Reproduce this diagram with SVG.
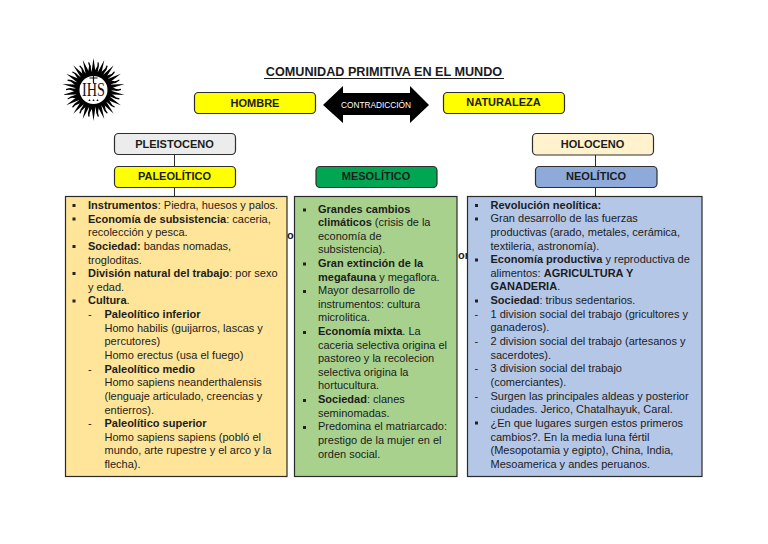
<svg xmlns="http://www.w3.org/2000/svg" width="768" height="544" viewBox="0 0 768 544">
<style>
text{font-family:"Liberation Sans",Arial,sans-serif;fill:#1c1c1c}
.t{font-size:11px}
.b{font-weight:bold}
.h{font-size:11px;font-weight:bold;text-anchor:middle}
.box{stroke:#2e2e2e;stroke-width:1.2}
.panel{stroke:#2a2a2a;stroke-width:1.2}
.c{stroke:#2a2a2a;stroke-width:1;fill:none}
.dot{fill:#222}
</style>
<defs>
<rect id="bu" x="-1.5" y="-1.5" width="3" height="3" class="dot"/>
<polygon id="r1" points="91,76 96,76 93.500,58"/>
<path id="r2" d="M91.300,76 Q90.600,71 92.400,68 Q93.800,65.500 92.800,62 L94,62 Q95.400,66 94.600,69 Q94.200,72 95.700,76Z"/>
</defs>
<g id="logo" fill="#000">
<circle cx="93.500" cy="89.500" r="18"/>
<use href="#r1"/>
<use href="#r2" transform="rotate(10 93.500 89.500)"/>
<use href="#r1" transform="rotate(20 93.500 89.500)"/>
<use href="#r2" transform="rotate(30 93.500 89.500)"/>
<use href="#r1" transform="rotate(40 93.500 89.500)"/>
<use href="#r2" transform="rotate(50 93.500 89.500)"/>
<use href="#r1" transform="rotate(60 93.500 89.500)"/>
<use href="#r2" transform="rotate(70 93.500 89.500)"/>
<use href="#r1" transform="rotate(80 93.500 89.500)"/>
<use href="#r2" transform="rotate(90 93.500 89.500)"/>
<use href="#r1" transform="rotate(100 93.500 89.500)"/>
<use href="#r2" transform="rotate(110 93.500 89.500)"/>
<use href="#r1" transform="rotate(120 93.500 89.500)"/>
<use href="#r2" transform="rotate(130 93.500 89.500)"/>
<use href="#r1" transform="rotate(140 93.500 89.500)"/>
<use href="#r2" transform="rotate(150 93.500 89.500)"/>
<use href="#r1" transform="rotate(160 93.500 89.500)"/>
<use href="#r2" transform="rotate(170 93.500 89.500)"/>
<use href="#r1" transform="rotate(180 93.500 89.500)"/>
<use href="#r2" transform="rotate(190 93.500 89.500)"/>
<use href="#r1" transform="rotate(200 93.500 89.500)"/>
<use href="#r2" transform="rotate(210 93.500 89.500)"/>
<use href="#r1" transform="rotate(220 93.500 89.500)"/>
<use href="#r2" transform="rotate(230 93.500 89.500)"/>
<use href="#r1" transform="rotate(240 93.500 89.500)"/>
<use href="#r2" transform="rotate(250 93.500 89.500)"/>
<use href="#r1" transform="rotate(260 93.500 89.500)"/>
<use href="#r2" transform="rotate(270 93.500 89.500)"/>
<use href="#r1" transform="rotate(280 93.500 89.500)"/>
<use href="#r2" transform="rotate(290 93.500 89.500)"/>
<use href="#r1" transform="rotate(300 93.500 89.500)"/>
<use href="#r2" transform="rotate(310 93.500 89.500)"/>
<use href="#r1" transform="rotate(320 93.500 89.500)"/>
<use href="#r2" transform="rotate(330 93.500 89.500)"/>
<use href="#r1" transform="rotate(340 93.500 89.500)"/>
<use href="#r2" transform="rotate(350 93.500 89.500)"/>
<circle cx="93.500" cy="90" r="14" fill="#fff"/>
<text x="93.500" y="96" text-anchor="middle" textLength="23" lengthAdjust="spacingAndGlyphs" style="font-family:'Liberation Serif',serif;font-size:18px;fill:#111">IHS</text>
<path d="M93.500,75 V83 M89.500,78 H97.500" stroke="#111" stroke-width="1.200" fill="none"/>
<path d="M89.500,99 l1.100,2 h-2.200z M93.500,99 l1.100,2 h-2.200z M97.500,99 l1.100,2 h-2.200z" fill="#111"/>
</g>
<g id="title">
<text x="384" y="76" text-anchor="middle" class="b" style="font-size:12.650px">COMUNIDAD PRIMITIVA EN EL MUNDO</text>
<rect x="264" y="78" width="240" height="1" fill="#1c1c1c"/>
</g>
<g id="connectors">
<path class="c" d="M174.500,154V166M174.500,187V196M595.500,155V166M595.500,187V196"/>
</g>
<g id="hombre"><rect class="box" x="194.500" y="92.500" width="121" height="21" rx="4" fill="#ffff00"/><text class="h" x="255" y="107">HOMBRE</text></g>
<g id="contradiccion"><polygon points="323,105 343,86 343,93 410,93 410,86 429,105 410,123 410,115 343,115 343,123" fill="#000"/><text x="376" y="108" text-anchor="middle" style="font-size:8.300px;fill:#fff">CONTRADICCIÓN</text></g>
<g id="naturaleza"><rect class="box" x="443.500" y="92.500" width="121" height="21" rx="4" fill="#ffff00"/><text class="h" x="503.500" y="106">NATURALEZA</text></g>
<g id="pleistoceno"><rect class="box" x="114.500" y="133.500" width="121" height="21" rx="4" fill="#ececec"/><text class="h" x="174.500" y="147.500">PLEISTOCENO</text></g>
<g id="paleolitico"><rect class="box" x="114.500" y="166.500" width="121" height="21" rx="4" fill="#ffff00"/><text class="h" x="174.500" y="180">PALEOLÍTICO</text></g>
<g id="mesolitico"><rect class="box" x="316" y="166.500" width="121" height="21" rx="4" fill="#00a651"/><text class="h" x="376" y="180">MESOLÍTICO</text></g>
<g id="holoceno"><rect class="box" x="532.500" y="133.500" width="121" height="21.500" rx="4" fill="#fff2cc"/><text class="h" x="592.500" y="148">HOLOCENO</text></g>
<g id="neolitico"><rect class="box" x="535.500" y="166.500" width="121.500" height="21" rx="4" fill="#8eaadb"/><text class="h" x="596" y="180">NEOLÍTICO</text></g>
<g id="stray">
<text x="287" y="238.500" class="t b">o</text>
<text x="458" y="258.500" class="t b">or</text>
</g>
<g id="panel-paleolitico">
<rect class="panel" x="65.500" y="196.500" width="221.500" height="280" fill="#ffe599"/>
<use href="#bu" x="74" y="205.500"/><use href="#bu" x="74" y="219"/><use href="#bu" x="74" y="246.500"/><use href="#bu" x="74" y="273.500"/><use href="#bu" x="74" y="301"/>
<text class="t" x="88" y="209"><tspan class="b">Instrumentos</tspan>: Piedra, huesos y palos.</text>
<text class="t" x="88" y="222.700"><tspan class="b">Economía de subsistencia</tspan>: caceria,</text>
<text class="t" x="88" y="236.300">recolección y pesca.</text>
<text class="t" x="88" y="250"><tspan class="b">Sociedad:</tspan> bandas nomadas,</text>
<text class="t" x="88" y="263.500">trogloditas.</text>
<text class="t" x="88" y="277.200"><tspan class="b">División natural del trabajo</tspan>: por sexo</text>
<text class="t" x="88" y="290.800">y edad.</text>
<text class="t" x="88" y="304.400"><tspan class="b">Cultura</tspan>.</text>
<text class="t" x="88" y="318">-</text><text class="t b" x="104.500" y="318">Paleolítico inferior</text>
<text class="t" x="104.500" y="331.700">Homo habilis (guijarros, lascas y</text>
<text class="t" x="104.500" y="345.300">percutores)</text>
<text class="t" x="104.500" y="359">Homo erectus (usa el fuego)</text>
<text class="t" x="88" y="372.600">-</text><text class="t b" x="104.500" y="372.600">Paleolítico medio</text>
<text class="t" x="104.500" y="386.200">Homo sapiens neanderthalensis</text>
<text class="t" x="104.500" y="399.900">(lenguaje articulado, creencias y</text>
<text class="t" x="104.500" y="413.500">entierros).</text>
<text class="t" x="88" y="427.200">-</text><text class="t b" x="104.500" y="427.200">Paleolítico superior</text>
<text class="t" x="104.500" y="440.800">Homo sapiens sapiens (pobló el</text>
<text class="t" x="104.500" y="454.400">mundo, arte rupestre y el arco y la</text>
<text class="t" x="104.500" y="468">flecha).</text>
</g>
<g id="panel-mesolitico">
<rect class="panel" x="294.500" y="196.500" width="162.500" height="280" fill="#a9d18e"/>
<use href="#bu" x="304.500" y="210"/><use href="#bu" x="304.500" y="264"/><use href="#bu" x="304.500" y="291.500"/><use href="#bu" x="304.500" y="332.500"/><use href="#bu" x="304.500" y="400.500"/><use href="#bu" x="304.500" y="427.500"/>
<text class="t b" x="318" y="212.500">Grandes cambios</text>
<text class="t" x="318" y="226.100"><tspan class="b">climáticos</tspan> (crisis de la</text>
<text class="t" x="318" y="239.700">economía de</text>
<text class="t" x="318" y="253.300">subsistencia).</text>
<text class="t b" x="318" y="267">Gran extinción de la</text>
<text class="t" x="318" y="280.600"><tspan class="b">megafauna</tspan> y megaflora.</text>
<text class="t" x="318" y="294.200">Mayor desarrollo de</text>
<text class="t" x="318" y="307.800">instrumentos: cultura</text>
<text class="t" x="318" y="321.400">microlitica.</text>
<text class="t" x="318" y="335"><tspan class="b">Economía mixta</tspan>. La</text>
<text class="t" x="318" y="348.600">caceria selectiva origina el</text>
<text class="t" x="318" y="362.200">pastoreo y la recolecion</text>
<text class="t" x="318" y="375.800">selectiva origina la</text>
<text class="t" x="318" y="389.400">hortucultura.</text>
<text class="t" x="318" y="403"><tspan class="b">Sociedad</tspan>: clanes</text>
<text class="t" x="318" y="416.600">seminomadas.</text>
<text class="t" x="318" y="430.200">Predomina el matriarcado:</text>
<text class="t" x="318" y="443.800">prestigo de la mujer en el</text>
<text class="t" x="318" y="457.500">orden social.</text>
</g>
<g id="panel-neolitico">
<rect class="panel" x="467.500" y="196.500" width="234.500" height="280" fill="#b4c7e7"/>
<use href="#bu" x="476.500" y="205.500"/><use href="#bu" x="476.500" y="219"/><use href="#bu" x="476.500" y="260"/><use href="#bu" x="476.500" y="301"/><use href="#bu" x="476.500" y="423"/>
<text class="t b" x="490.500" y="208.500">Revolución neolítica:</text>
<text class="t" x="490.500" y="222.200">Gran desarrollo de las fuerzas</text>
<text class="t" x="490.500" y="235.800">productivas (arado, metales, cerámica,</text>
<text class="t" x="490.500" y="249.500">textileria, astronomía).</text>
<text class="t" x="490.500" y="263.100"><tspan class="b">Economía productiva</tspan> y reproductiva de</text>
<text class="t" x="490.500" y="276.800">alimentos: <tspan class="b">AGRICULTURA Y</tspan></text>
<text class="t" x="490.500" y="290.400"><tspan class="b">GANADERIA</tspan>.</text>
<text class="t" x="490.500" y="304"><tspan class="b">Sociedad</tspan>: tribus sedentarios.</text>
<text class="t" x="474.500" y="317.700">-</text><text class="t" x="490.500" y="317.700">1 division social del trabajo (gricultores y</text>
<text class="t" x="490.500" y="331.300">ganaderos).</text>
<text class="t" x="474.500" y="345">-</text><text class="t" x="490.500" y="345">2 division social del trabajo (artesanos y</text>
<text class="t" x="490.500" y="358.600">sacerdotes).</text>
<text class="t" x="474.500" y="372.300">-</text><text class="t" x="490.500" y="372.300">3 division social del trabajo</text>
<text class="t" x="490.500" y="386">(comerciantes).</text>
<text class="t" x="474.500" y="399.600">-</text><text class="t" x="490.500" y="399.600">Surgen las principales aldeas y posterior</text>
<text class="t" x="490.500" y="413.200">ciudades. Jerico, Chatalhayuk, Caral.</text>
<text class="t" x="490.500" y="426.900">¿En que lugares surgen estos primeros</text>
<text class="t" x="490.500" y="440.500">cambios?. En la media luna fértil</text>
<text class="t" x="490.500" y="454.200">(Mesopotamia y egipto), China, India,</text>
<text class="t" x="490.500" y="467.800">Mesoamerica y andes peruanos.</text>
</g>
</svg>
